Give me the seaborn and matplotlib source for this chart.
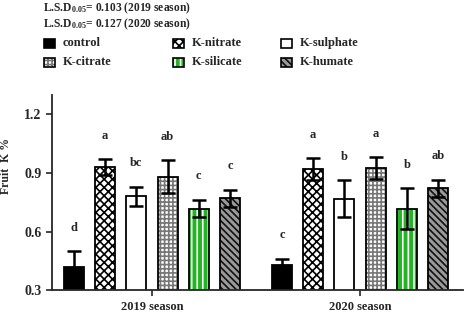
import matplotlib
matplotlib.use("Agg")
import matplotlib.pyplot as plt
import matplotlib.patches as mpatches
import matplotlib.colors as mcolors
import seaborn as sns
import pandas as pd

seasons = ["2019 season", "2020 season"]
treatments = ["control", "K-nitrate", "K-sulphate", "K-citrate", "K-silicate", "K-humate"]
values_2019 = [0.42, 0.93, 0.78, 0.88, 0.717, 0.77]
values_2020 = [0.43, 0.92, 0.767, 0.924, 0.717, 0.822]
err_2019 = [0.08, 0.04, 0.05, 0.085, 0.045, 0.045]
err_2020 = [0.03, 0.055, 0.095, 0.056, 0.105, 0.043]
letters_2019 = ["d", "a", "bc", "ab", "c", "c"]
letters_2020 = ["c", "a", "b", "a", "b", "ab"]
lsd_lines = [r"L.S.D$_{0.05}$= 0.103 (2019 season)", r"L.S.D$_{0.05}$= 0.127 (2020 season)"]

# styles: face, hatch, hatch colour
styles = {
    "control": ("black", "", "black"),
    "K-nitrate": ("white", "xxxx", "black"),
    "K-sulphate": ("white", "", "black"),
    "K-citrate": ("white", "++++", "#777777"),
    "K-silicate": ("#22b422", "|||", "white"),
    "K-humate": ("#9a9a9a", "\\\\\\\\\\", "#111111"),
}

sns.set_style("ticks")
plt.rcParams["font.family"] = ["Liberation Serif", "DejaVu Serif"]
plt.rcParams["font.weight"] = "bold"
plt.rcParams["mathtext.fontset"] = "custom"
plt.rcParams["mathtext.rm"] = "Liberation Serif:bold"
plt.rcParams["mathtext.default"] = "rm"
plt.rcParams["hatch.linewidth"] = 1.2

rows = []
for s, vals in zip(seasons, [values_2019, values_2020]):
    for t, v in zip(treatments, vals):
        rows.append({"season": s, "treatment": t, "value": v})
df = pd.DataFrame(rows)

W, H = 474, 326
fig = plt.figure(figsize=(W / 100, H / 100), dpi=100)
ax = fig.add_axes([0.1097, 0.110, 0.8673, 0.599])

sns.barplot(data=df, x="season", y="value", hue="treatment", hue_order=treatments,
            order=seasons, errorbar=None, width=0.9, gap=0.36, ax=ax, legend=False)

errs = {s: e for s, e in zip(seasons, [err_2019, err_2020])}
letts = {s: l for s, l in zip(seasons, [letters_2019, letters_2020])}
vals_all = {s: v for s, v in zip(seasons, [values_2019, values_2020])}

for ti, (t, cont) in enumerate(zip(treatments, ax.containers)):
    face, hatch, hcol = styles[t]
    for si, p in enumerate(cont.patches):
        p.set_facecolor(face)
        p.set_edgecolor("black")
        p.set_linewidth(1.3)
        p.set_hatch(hatch)
        p._hatch_color = mcolors.to_rgba(hcol)
        xc = p.get_x() + p.get_width() / 2
        s = seasons[si]
        v = vals_all[s][ti]
        e = errs[s][ti]
        ax.errorbar(xc, v, yerr=e, fmt="none", ecolor="black", elinewidth=1.8,
                    capsize=5, capthick=1.8, zorder=5)
        ax.text(xc, v + e + 0.09, letts[s][ti], ha="center", va="bottom",
                fontsize=9, fontweight="bold")

ax.set_ylim(0.3, 1.3)
ax.set_yticks([0.3, 0.6, 0.9, 1.2])
ax.set_yticklabels(["0.3", "0.6", "0.9", "1.2"])
ax.set_xlim(-0.48, 1.495)
ax.set_xlabel("")
ax.set_ylabel("Fruit  K %", fontsize=8.5, fontweight="bold")
ax.yaxis.set_label_coords(-0.097, 0.636)
ax.tick_params(axis="x", labelsize=9, width=1.2, length=4, direction="out")
ax.tick_params(axis="y", labelsize=10, width=1.2, length=4, direction="out")
for lab in ax.get_xticklabels() + ax.get_yticklabels():
    lab.set_fontweight("bold")
sns.despine(ax=ax)
ax.spines["left"].set_linewidth(1.3)
ax.spines["bottom"].set_linewidth(1.3)

# manual legend (pixel positions converted to figure fraction)
leg_items = [
    ("control", 44, 43), ("K-nitrate", 173, 43), ("K-sulphate", 281, 43),
    ("K-citrate", 44, 62), ("K-silicate", 173, 62), ("K-humate", 281, 62),
]
for t, px, py in leg_items:
    face, hatch, hcol = styles[t]
    r = mpatches.Rectangle((px / W, 1 - (py + 4.5) / H), 11 / W, 9 / H,
                           transform=fig.transFigure, facecolor=face, edgecolor="black",
                           hatch=hatch, linewidth=1.2)
    r._hatch_color = mcolors.to_rgba(hcol)
    fig.patches.append(r)
    fig.text((px + 19) / W, 1 - py / H, t, ha="left", va="center", fontsize=9,
             fontweight="bold")

for i, line in enumerate(lsd_lines):
    fig.text(43 / W, 1 - (8 + i * 16) / H, line, ha="left", va="center", fontsize=8.3,
             fontweight="bold")

fig.savefig("out.png", dpi=100)
